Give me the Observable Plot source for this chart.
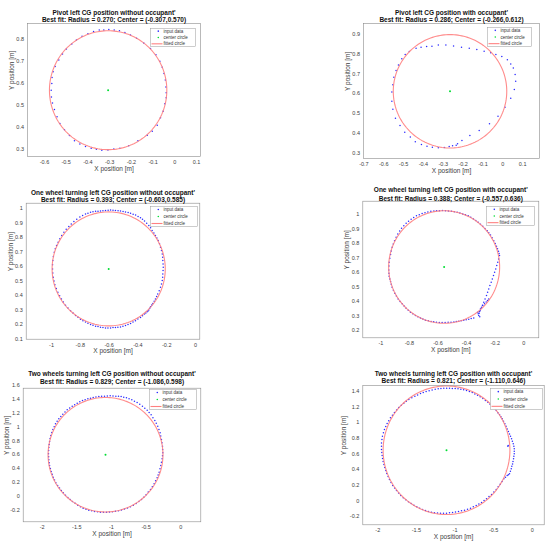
<!DOCTYPE html>
<html><head><meta charset="utf-8">
<script src="https://cdn.jsdelivr.net/npm/d3@7"></script>
<script src="https://cdn.jsdelivr.net/npm/@observablehq/plot@0.6"></script>
<style>
body{margin:0;background:#fff;font-family:"Liberation Sans",Arial,sans-serif;}
#root{position:relative;width:550px;height:545px;overflow:hidden;background:#fff;}
</style></head><body><div id="root"></div>
<script>
// ---------- data ----------
const titleLine1 = [
  "Pivot left CG position without occupant'",
  "Pivot left CG position with occupant'",
  "One wheel turning left CG position without occupant'",
  "One wheel turning left CG position with occupant'",
  "Two wheels turning left CG position without occupant'",
  "Two wheels turning left CG position with occupant'"
];
const titleLine2 = [
  "Best fit: Radius = 0.270; Center = (-0.307,0.570)",
  "Best fit: Radius = 0.286; Center = (-0.266,0.612)",
  "Best fit: Radius = 0.393; Center = (-0.603,0.585)",
  "Best fit: Radius = 0.388; Center = (-0.557,0.636)",
  "Best fit: Radius = 0.829; Center = (-1.086,0.598)",
  "Best fit: Radius = 0.821; Center = (-1.110,0.646)"
];
const centersX = [-0.307, -0.266, -0.603, -0.557, -1.086, -1.110];
const centersY = [0.570, 0.612, 0.585, 0.636, 0.598, 0.646];
const radii = [0.270, 0.286, 0.393, 0.388, 0.829, 0.821];

const xDomains = [[-0.678, 0.118], [-0.702, 0.185], [-1.176, 0.03], [-1.126, 0.105], [-2.274, 0.289], [-2.194, 0.155]];
const yDomains = [[0.269, 0.873], [0.273, 0.954], [0.1, 1.038], [0.148, 1.09], [-0.374, 1.561], [-0.306, 1.473]];
const xTicks = [
  [-0.6, -0.5, -0.4, -0.3, -0.2, -0.1, 0, 0.1],
  [-0.7, -0.6, -0.5, -0.4, -0.3, -0.2, -0.1, 0, 0.1],
  [-1, -0.8, -0.6, -0.4, -0.2, 0],
  [-1, -0.8, -0.6, -0.4, -0.2, 0],
  [-2, -1.5, -1, -0.5, 0],
  [-2, -1.5, -1, -0.5, 0]
];
const yTicks = [
  [0.3, 0.4, 0.5, 0.6, 0.7, 0.8],
  [0.3, 0.4, 0.5, 0.6, 0.7, 0.8, 0.9],
  [0.1, 0.2, 0.3, 0.4, 0.5, 0.6, 0.7, 0.8, 0.9, 1],
  [0.2, 0.3, 0.4, 0.5, 0.6, 0.7, 0.8, 0.9, 1],
  [-0.2, 0, 0.2, 0.4, 0.6, 0.8, 1, 1.2, 1.4, 1.6],
  [-0.2, 0, 0.2, 0.4, 0.6, 0.8, 1, 1.2, 1.4]
];
const xLabel = "X position [m]";
const yLabel = "Y position [m]";
const legendLabels = ["input data", "center circle", "fitted circle"];

// input data, panel 1
const p1X = [-0.427,-0.400,-0.374,-0.348,-0.327,-0.304,-0.279,-0.255,-0.230,-0.204,-0.176,-0.143,-0.112,-0.087,-0.069,-0.058,-0.050,-0.044,-0.041,-0.040,-0.040,-0.046,-0.054,-0.066,-0.081,-0.104,-0.127,-0.170,-0.212,-0.253,-0.281,-0.308,-0.336,-0.361,-0.385,-0.411,-0.437,-0.462,-0.485,-0.508,-0.529,-0.542,-0.554,-0.563,-0.568,-0.569,-0.566,-0.565,-0.560,-0.551,-0.534,-0.517,-0.499,-0.474,-0.453];
const p1Y = [0.815,0.827,0.837,0.843,0.844,0.846,0.844,0.840,0.832,0.821,0.806,0.785,0.760,0.731,0.701,0.674,0.646,0.616,0.585,0.559,0.536,0.509,0.475,0.445,0.411,0.384,0.366,0.340,0.318,0.306,0.303,0.299,0.297,0.302,0.306,0.314,0.326,0.341,0.364,0.390,0.419,0.449,0.483,0.512,0.539,0.570,0.600,0.628,0.654,0.678,0.707,0.734,0.757,0.780,0.798];
// panel 2
const p2X = [-0.471,-0.437,-0.412,-0.384,-0.357,-0.325,-0.287,-0.248,-0.208,-0.169,-0.131,-0.094,-0.061,-0.035,-0.005,0.023,0.040,0.053,0.062,0.065,0.058,0.040,0.011,-0.024,-0.067,-0.119,-0.166,-0.206,-0.228,-0.235,-0.253,-0.270,-0.295,-0.325,-0.355,-0.382,-0.410,-0.441,-0.466,-0.494,-0.518,-0.541,-0.554,-0.559,-0.559,-0.554,-0.549,-0.538,-0.526,-0.509,-0.492];
const p2Y = [0.813,0.829,0.834,0.838,0.839,0.846,0.846,0.841,0.834,0.829,0.823,0.814,0.806,0.797,0.787,0.771,0.750,0.729,0.697,0.663,0.621,0.577,0.532,0.486,0.448,0.414,0.389,0.364,0.347,0.340,0.337,0.334,0.328,0.327,0.330,0.335,0.344,0.357,0.381,0.406,0.439,0.476,0.522,0.562,0.608,0.645,0.683,0.717,0.745,0.776,0.797];
// panel 3 (two reading passes of the dense dotted ring)
const p3X = [-0.660,-0.625,-0.590,-0.556,-0.521,-0.486,-0.451,-0.416,-0.382,-0.354,-0.324,-0.301,-0.278,-0.259,-0.243,-0.231,-0.227,-0.224,-0.227,-0.231,-0.243,-0.262,-0.278,-0.296,-0.312,-0.324,-0.336,-0.354,-0.382,-0.417,-0.451,-0.486,-0.521,-0.556,-0.590,-0.625,-0.660,-0.694,-0.729,-0.764,-0.799,-0.833,-0.868,-0.903,-0.931,-0.956,-0.977,-0.988,-0.993,-0.991,-0.981,-0.965,-0.942,-0.914,-0.880,-0.845,-0.803,-0.764,-0.729,-0.694];
const p3Y = [0.984,0.988,0.991,0.988,0.984,0.977,0.968,0.956,0.938,0.915,0.885,0.850,0.815,0.781,0.735,0.688,0.642,0.596,0.550,0.504,0.458,0.411,0.377,0.347,0.324,0.301,0.289,0.273,0.250,0.227,0.208,0.194,0.185,0.181,0.178,0.178,0.183,0.190,0.201,0.218,0.238,0.264,0.296,0.335,0.377,0.423,0.476,0.527,0.585,0.642,0.700,0.746,0.792,0.838,0.878,0.912,0.942,0.963,0.975,0.982];
const p3Xb = [-0.643,-0.607,-0.573,-0.538,-0.503,-0.468,-0.433,-0.399,-0.368,-0.339,-0.312,-0.289,-0.268,-0.250,-0.236,-0.228,-0.225,-0.225,-0.228,-0.236,-0.252,-0.270,-0.287,-0.304,-0.318,-0.330,-0.345,-0.368,-0.400,-0.434,-0.469,-0.504,-0.539,-0.573,-0.608,-0.643,-0.677,-0.712,-0.747,-0.782,-0.816,-0.851,-0.886,-0.918,-0.944,-0.967,-0.983,-0.991,-0.993,-0.987,-0.974,-0.954,-0.929,-0.898,-0.863,-0.825,-0.784,-0.747,-0.712,-0.677];
const p3Yb = [0.986,0.990,0.990,0.986,0.981,0.973,0.962,0.947,0.927,0.900,0.868,0.833,0.798,0.758,0.712,0.665,0.619,0.573,0.527,0.481,0.435,0.394,0.362,0.336,0.313,0.295,0.281,0.262,0.239,0.218,0.201,0.190,0.183,0.180,0.178,0.181,0.187,0.196,0.210,0.228,0.251,0.280,0.316,0.356,0.400,0.450,0.502,0.556,0.614,0.671,0.723,0.769,0.815,0.858,0.895,0.927,0.953,0.969,0.979,0.983];
// panel 4
const p4X = [-0.944,-0.942,-0.932,-0.921,-0.904,-0.881,-0.855,-0.823,-0.788,-0.751,-0.711,-0.671,-0.629,-0.590,-0.548,-0.506,-0.466,-0.427,-0.389,-0.352,-0.319,-0.287,-0.256,-0.233,-0.210,-0.191,-0.177,-0.170,-0.182,-0.196,-0.212,-0.228,-0.245,-0.261,-0.280,-0.298,-0.312,-0.245,-0.263,-0.287,-0.303,-0.319,-0.315,-0.308,-0.322,-0.350,-0.385,-0.420,-0.455,-0.489,-0.529,-0.571,-0.611,-0.648,-0.688,-0.723,-0.758,-0.793,-0.823,-0.851,-0.879,-0.902,-0.921,-0.932,-0.942];
const p4Y = [0.616,0.669,0.722,0.772,0.818,0.864,0.903,0.938,0.966,0.989,1.005,1.016,1.023,1.025,1.025,1.021,1.014,1.002,0.989,0.968,0.945,0.917,0.887,0.857,0.818,0.779,0.745,0.715,0.669,0.623,0.577,0.531,0.485,0.439,0.393,0.352,0.317,0.416,0.395,0.370,0.347,0.313,0.301,0.294,0.324,0.285,0.276,0.269,0.262,0.257,0.255,0.253,0.255,0.260,0.269,0.285,0.301,0.324,0.352,0.382,0.416,0.455,0.497,0.536,0.572];
const p4Xb = [-0.943,-0.937,-0.927,-0.913,-0.893,-0.868,-0.839,-0.806,-0.770,-0.731,-0.691,-0.650,-0.610,-0.569,-0.527,-0.486,-0.447,-0.408,-0.371,-0.336,-0.303,-0.272,-0.245,-0.222,-0.200,-0.184,-0.173,-0.176,-0.189,-0.204,-0.220,-0.237,-0.253,-0.271,-0.289,-0.305,-0.254,-0.275,-0.295,-0.311,-0.368,-0.403,-0.438,-0.472,-0.509,-0.550,-0.591,-0.630,-0.668,-0.706,-0.741,-0.776,-0.808,-0.837,-0.865,-0.891,-0.912,-0.927,-0.937,-0.943];
const p4Yb = [0.643,0.696,0.747,0.795,0.841,0.884,0.921,0.952,0.978,0.997,1.011,1.020,1.024,1.026,1.023,1.018,1.008,0.996,0.979,0.957,0.931,0.902,0.872,0.838,0.799,0.762,0.730,0.692,0.646,0.600,0.554,0.508,0.462,0.416,0.373,0.335,0.406,0.383,0.359,0.330,0.281,0.273,0.266,0.260,0.256,0.254,0.254,0.258,0.265,0.277,0.293,0.313,0.338,0.367,0.399,0.436,0.476,0.517,0.554,0.594];
// panel 5
const p5X = [-1.101,-1.183,-1.264,-1.341,-1.418,-1.495,-1.567,-1.639,-1.702,-1.760,-1.808,-1.846,-1.875,-1.894,-1.904,-1.909,-1.904,-1.894,-1.870,-1.841,-1.803,-1.750,-1.697,-1.630,-1.563,-1.486,-1.409,-1.327,-1.245,-1.159,-1.072,-0.986,-0.899,-0.812,-0.726,-0.644,-0.567,-0.500,-0.437,-0.385,-0.341,-0.312,-0.288,-0.269,-0.259,-0.264,-0.279,-0.298,-0.332,-0.375,-0.428,-0.485,-0.553,-0.630,-0.707,-0.784,-0.861,-0.937,-1.019];
const p5Y = [1.446,1.441,1.426,1.407,1.383,1.344,1.301,1.248,1.185,1.117,1.045,0.963,0.876,0.789,0.702,0.611,0.524,0.442,0.355,0.273,0.191,0.114,0.046,-0.022,-0.079,-0.133,-0.176,-0.205,-0.224,-0.234,-0.234,-0.229,-0.215,-0.190,-0.157,-0.108,-0.050,0.017,0.094,0.176,0.263,0.345,0.442,0.538,0.625,0.722,0.818,0.915,1.011,1.093,1.175,1.243,1.301,1.354,1.392,1.421,1.441,1.446,1.450];
const p5Xb = [-1.142,-1.224,-1.303,-1.380,-1.457,-1.531,-1.603,-1.671,-1.731,-1.784,-1.827,-1.861,-1.885,-1.899,-1.907,-1.907,-1.899,-1.882,-1.856,-1.822,-1.777,-1.724,-1.664,-1.597,-1.525,-1.448,-1.368,-1.286,-1.202,-1.116,-1.029,-0.943,-0.856,-0.769,-0.685,-0.606,-0.534,-0.469,-0.411,-0.363,-0.327,-0.300,-0.279,-0.264,-0.262,-0.272,-0.289,-0.315,-0.354,-0.402,-0.457,-0.519,-0.592,-0.669,-0.746,-0.823,-0.899,-0.978,-1.060];
const p5Yb = [1.444,1.434,1.417,1.395,1.364,1.323,1.275,1.217,1.151,1.081,1.004,0.920,0.833,0.746,0.657,0.568,0.483,0.399,0.314,0.232,0.153,0.080,0.012,-0.051,-0.106,-0.155,-0.191,-0.215,-0.229,-0.234,-0.232,-0.222,-0.203,-0.174,-0.133,-0.079,-0.017,0.056,0.135,0.220,0.304,0.394,0.490,0.582,0.674,0.770,0.867,0.963,1.052,1.134,1.209,1.272,1.328,1.373,1.407,1.431,1.444,1.448,1.448];
// panel 6
const p6X = [-1.145,-1.218,-1.296,-1.374,-1.447,-1.520,-1.598,-1.663,-1.728,-1.784,-1.836,-1.879,-1.914,-1.940,-1.952,-1.952,-1.944,-1.931,-1.909,-1.883,-1.849,-1.806,-1.758,-1.702,-1.637,-1.568,-1.495,-1.421,-1.343,-1.266,-1.188,-1.110,-1.032,-0.955,-0.877,-0.799,-0.726,-0.656,-0.592,-0.527,-0.466,-0.415,-0.367,-0.324,-0.294,-0.272,-0.255,-0.242,-0.233,-0.233,-0.311,-0.315,-0.246,-0.268,-0.294,-0.324,-0.354,-0.389,-0.423,-0.466,-0.518,-0.574,-0.639,-0.708,-0.777,-0.851,-0.924,-0.998,-1.071];
const p6Y = [1.438,1.430,1.417,1.396,1.370,1.336,1.294,1.247,1.192,1.128,1.060,0.987,0.911,0.826,0.740,0.655,0.579,0.502,0.426,0.349,0.272,0.196,0.132,0.068,0.013,-0.034,-0.076,-0.111,-0.136,-0.153,-0.157,-0.157,-0.149,-0.136,-0.119,-0.094,-0.059,-0.021,0.026,0.081,0.145,0.213,0.281,0.323,0.345,0.409,0.472,0.536,0.600,0.664,0.706,0.698,0.728,0.792,0.855,0.919,0.983,1.047,1.098,1.153,1.209,1.260,1.306,1.349,1.383,1.409,1.426,1.434,1.438];
const p6Xb = [-1.182,-1.257,-1.335,-1.411,-1.484,-1.559,-1.631,-1.696,-1.756,-1.810,-1.858,-1.897,-1.927,-1.946,-1.952,-1.948,-1.938,-1.920,-1.896,-1.866,-1.828,-1.782,-1.730,-1.670,-1.603,-1.532,-1.458,-1.382,-1.305,-1.227,-1.149,-1.071,-0.994,-0.916,-0.838,-0.763,-0.691,-0.624,-0.560,-0.497,-0.441,-0.391,-0.346,-0.309,-0.283,-0.264,-0.249,-0.238,-0.233,-0.238,-0.257,-0.281,-0.309,-0.339,-0.372,-0.406,-0.445,-0.492,-0.546,-0.607,-0.674,-0.743,-0.814,-0.888,-0.961,-1.035,-1.108];
const p6Yb = [1.434,1.424,1.407,1.383,1.353,1.315,1.271,1.220,1.160,1.094,1.024,0.949,0.869,0.783,0.698,0.617,0.541,0.464,0.388,0.311,0.234,0.164,0.100,0.041,-0.011,-0.055,-0.094,-0.124,-0.145,-0.155,-0.157,-0.153,-0.143,-0.128,-0.107,-0.077,-0.040,0.003,0.054,0.113,0.179,0.247,0.302,0.334,0.377,0.441,0.504,0.568,0.632,0.696,0.760,0.824,0.887,0.951,1.015,1.073,1.126,1.181,1.235,1.283,1.328,1.366,1.396,1.418,1.430,1.436,1.438];

const dataX = [p1X, p2X, p3X.concat(p3Xb), p4X.concat(p4Xb), p5X.concat(p5Xb), p6X.concat(p6Xb)];
const dataY = [p1Y, p2Y, p3Y.concat(p3Yb), p4Y.concat(p4Yb), p5Y.concat(p5Yb), p6Y.concat(p6Yb)];

// ---------- layout (pixels) ----------
const layout = [
  {cell:[0,0,180],     box:[27,200,23,156],          t:[-13,-5.7],   yl:-15.5, leg:[150,28,46,19]},
  {cell:[275,0,180],   box:[363,539,23,158],         t:[-13,-5.7],   yl:-15.5, leg:[487,27,45,20]},
  {cell:[0,180,185],   box:[25.7,199.3,202.7,338.7], t:[-12.7,-5.4], yl:-15.7, leg:[150,206,48,21]},
  {cell:[275,180,185], box:[362.3,538.3,200.7,337.3],t:[-13.4,-5],   yl:-15.5, leg:[486,206,49,20]},
  {cell:[0,365,180],   box:[22.7,200.3,387.7,521.3], t:[-17,-8.7],   yl:-16,   leg:[149,389,48,21]},
  {cell:[275,365,180], box:[362.3,543.7,385,524.3],  t:[-14.3,-6.7], yl:-18.5, leg:[490,388,53,22]}
];

const root = document.getElementById("root");
const fmt = v => String(+(+v).toFixed(2));
const FONT = '"Liberation Sans", Arial, sans-serif';
const BLUE = "#2a2aff", GREEN = "#00dd33", RED = "#ff8080";

for (let i = 0; i < 6; i++) {
  const L = layout[i];
  const [cx0, cy0, ch] = L.cell;
  const [bl, br, bt, bb] = L.box;
  const pts = dataX[i].map((x, j) => ({x, y: dataY[i][j]}));
  const circle = d3.range(0, 361, 2).map(a => ({
    x: centersX[i] + radii[i] * Math.cos(a * Math.PI / 180),
    y: centersY[i] + radii[i] * Math.sin(a * Math.PI / 180)
  }));
  const svg = Plot.plot({
    width: 275, height: ch,
    marginLeft: bl - cx0, marginRight: cx0 + 275 - br,
    marginTop: bt - cy0, marginBottom: cy0 + ch - bb,
    x: {domain: xDomains[i]},
    y: {domain: yDomains[i]},
    style: {fontFamily: FONT, fontSize: "5.5px", color: "#404040", background: "transparent", overflow: "visible"},
    marks: [
      Plot.axisX({ticks: xTicks[i], tickFormat: fmt, tickSize: 0, tickPadding: 3.5, label: null, fill: "#404040"}),
      Plot.axisY({ticks: yTicks[i], tickFormat: fmt, tickSize: 0, tickPadding: 3.5, label: null, fill: "#404040"}),
      Plot.dot(pts, {x: "x", y: "y", r: 0.75, fill: BLUE, stroke: null}),
      Plot.line(circle, {x: "x", y: "y", stroke: RED, strokeWidth: 1.1, strokeOpacity: 0.9}),
      Plot.dot([{x: centersX[i], y: centersY[i]}], {x: "x", y: "y", r: 1, fill: GREEN, stroke: null}),
      Plot.frame({stroke: "#8a8a8a", strokeWidth: 0.6}),
      Plot.text([titleLine1[i]], {text: d => d, frameAnchor: "top", dy: L.t[0], fontWeight: "bold", fontSize: 6.5, fill: "#111"}),
      Plot.text([titleLine2[i]], {text: d => d, frameAnchor: "top", dy: L.t[1], fontWeight: "bold", fontSize: 6.5, fill: "#111"}),
      Plot.text([xLabel], {text: d => d, frameAnchor: "bottom", dy: 14, fontSize: 6.5, fill: "#404040"}),
      Plot.text([yLabel], {text: d => d, frameAnchor: "left", dx: L.yl, rotate: -90, fontSize: 6.5, fill: "#404040"})
    ]
  });
  svg.style.position = "absolute";
  svg.style.left = cx0 + "px";
  svg.style.top = cy0 + "px";
  root.appendChild(svg);

  // legend
  const [lx, ly, lw, lh] = L.leg;
  const lg = d3.create("svg").attr("width", lw).attr("height", lh)
    .style("position", "absolute").style("left", lx + "px").style("top", ly + "px");
  lg.append("rect").attr("x", 0.3).attr("y", 0.3).attr("width", lw - 0.6).attr("height", lh - 0.6)
    .attr("fill", "white").attr("stroke", "#9a9a9a").attr("stroke-width", 0.5);
  const rh = lh / 3;
  legendLabels.forEach((t, k) => {
    const cy = rh * (k + 0.5);
    if (k === 0) lg.append("circle").attr("cx", 8.3).attr("cy", cy).attr("r", 0.8).attr("fill", BLUE);
    if (k === 1) lg.append("circle").attr("cx", 8.3).attr("cy", cy).attr("r", 0.8).attr("fill", GREEN);
    if (k === 2) lg.append("line").attr("x1", 1.5).attr("x2", 12.5).attr("y1", cy).attr("y2", cy)
      .attr("stroke", RED).attr("stroke-width", 1.1);
    lg.append("text").attr("x", 13.5).attr("y", cy).attr("dy", "0.35em")
      .attr("font-family", FONT).attr("font-size", 4.5).attr("fill", "#333").text(t);
  });
  root.appendChild(lg.node());
}
</script></body></html>
